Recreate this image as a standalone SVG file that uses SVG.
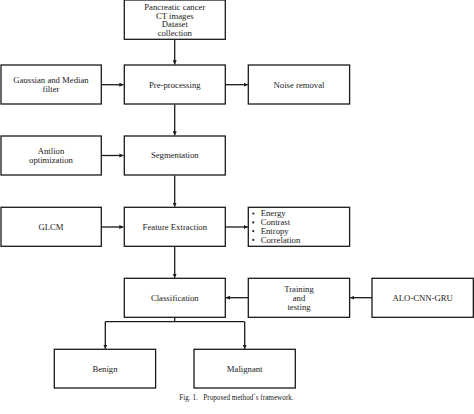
<svg xmlns="http://www.w3.org/2000/svg" width="474" height="414" viewBox="0 0 474 414">
<style>
.box{fill:#fff;stroke:#1a1a1a;stroke-width:1.3}
.t{font-family:"Liberation Serif","Times New Roman",serif;font-size:8.7px;fill:#222;text-anchor:middle}
.l{font-family:"Liberation Serif","Times New Roman",serif;font-size:8.7px;fill:#222}
.c{stroke:#1a1a1a;stroke-width:1.3;fill:none}
.cap{font-family:"Liberation Serif","Times New Roman",serif;font-size:7.2px;fill:#222;text-anchor:middle}
</style>
<defs>
<marker id="ah" viewBox="0 0 8 8" refX="8" refY="4" markerWidth="3.2" markerHeight="3.2" orient="auto" markerUnits="strokeWidth">
<path d="M0,0 L8,4 L0,8 Z" fill="#1a1a1a"/>
</marker>
</defs>
<rect width="474" height="414" fill="#fff"/>
<g id="connectors">
<path class="c" d="M174.7,39.5 V64.5" marker-end="url(#ah)"/>
<path class="c" d="M101.5,84.7 H123.5" marker-end="url(#ah)"/>
<path class="c" d="M225.5,84.7 H247.8" marker-end="url(#ah)"/>
<path class="c" d="M174.7,104.5 V135.5" marker-end="url(#ah)"/>
<path class="c" d="M101.5,155.5 H123.5" marker-end="url(#ah)"/>
<path class="c" d="M174.7,175.5 V206.8" marker-end="url(#ah)"/>
<path class="c" d="M101.5,227 H123.5" marker-end="url(#ah)"/>
<path class="c" d="M225.5,227 H247.8" marker-end="url(#ah)"/>
<path class="c" d="M174.7,246.5 V277.8" marker-end="url(#ah)"/>
<path class="c" d="M248.3,297.7 H225.8" marker-end="url(#ah)"/>
<path class="c" d="M372,297.7 H350.2" marker-end="url(#ah)"/>
<path class="c" d="M174.7,317.5 V321.7 M105.3,321.7 H244.7"/>
<path class="c" d="M105.3,321.7 V348.8" marker-end="url(#ah)"/>
<path class="c" d="M244.7,321.7 V348.8" marker-end="url(#ah)"/>
</g>
<g id="dataset">
<rect class="box" x="124.3" y="0" width="101" height="39.3"/>
<text class="t" x="174.8" y="9.7">Pancreatic cancer</text>
<text class="t" x="174.8" y="18.6">CT images</text>
<text class="t" x="174.8" y="27.3">Dataset</text>
<text class="t" x="174.8" y="36">collection</text>
</g>
<g id="gaussian">
<rect class="box" x="1" y="65" width="100.3" height="39"/>
<text class="t" x="51" y="83">Gaussian and Median</text>
<text class="t" x="51" y="91.8">filter</text>
</g>
<g id="preprocessing">
<rect class="box" x="124.3" y="65" width="101" height="39"/>
<text class="t" x="174.8" y="87.6">Pre-processing</text>
</g>
<g id="noise">
<rect class="box" x="248.3" y="65" width="101.3" height="39"/>
<text class="t" x="299" y="87.6">Noise removal</text>
</g>
<g id="antlion">
<rect class="box" x="1" y="136" width="100.3" height="39"/>
<text class="t" x="51" y="154">Antlion</text>
<text class="t" x="51" y="162.8">optimization</text>
</g>
<g id="segmentation">
<rect class="box" x="124.3" y="136" width="101" height="39"/>
<text class="t" x="174.8" y="158.4">Segmentation</text>
</g>
<g id="glcm">
<rect class="box" x="1" y="207.3" width="100.3" height="39"/>
<text class="t" x="51" y="230">GLCM</text>
</g>
<g id="feature">
<rect class="box" x="124.3" y="207.3" width="101" height="39"/>
<text class="t" x="174.8" y="230">Feature Extraction</text>
</g>
<g id="features-list">
<rect class="box" x="248.3" y="207.3" width="101.3" height="39"/>
<circle cx="253.3" cy="213.5" r="1.1" fill="#222"/>
<circle cx="253.3" cy="222.4" r="1.1" fill="#222"/>
<circle cx="253.3" cy="231.1" r="1.1" fill="#222"/>
<circle cx="253.3" cy="239.9" r="1.1" fill="#222"/>
<text class="l" x="260.7" y="216.3">Energy</text>
<text class="l" x="260.7" y="225.2">Contrast</text>
<text class="l" x="260.7" y="233.9">Entropy</text>
<text class="l" x="260.7" y="242.7">Correlation</text>
</g>
<g id="classification">
<rect class="box" x="124.3" y="278.3" width="101" height="39"/>
<text class="t" x="174.8" y="300.8">Classification</text>
</g>
<g id="training">
<rect class="box" x="248.3" y="278.3" width="101.3" height="39"/>
<text class="t" x="299" y="291.8">Training</text>
<text class="t" x="299" y="300.8">and</text>
<text class="t" x="299" y="309.6">testing</text>
</g>
<g id="alo">
<rect class="box" x="372" y="278.3" width="101.3" height="39"/>
<text class="t" x="422.7" y="300.8">ALO-CNN-GRU</text>
</g>
<g id="benign">
<rect class="box" x="54.3" y="349.3" width="101.3" height="38.7"/>
<text class="t" x="105" y="371.8">Benign</text>
</g>
<g id="malignant">
<rect class="box" x="194" y="349.3" width="101.3" height="38.7"/>
<text class="t" x="244.7" y="371.8">Malignant</text>
</g>
<text class="cap" x="236.5" y="400.2" xml:space="preserve">Fig. 1.   Proposed method`s framework.</text>
</svg>
